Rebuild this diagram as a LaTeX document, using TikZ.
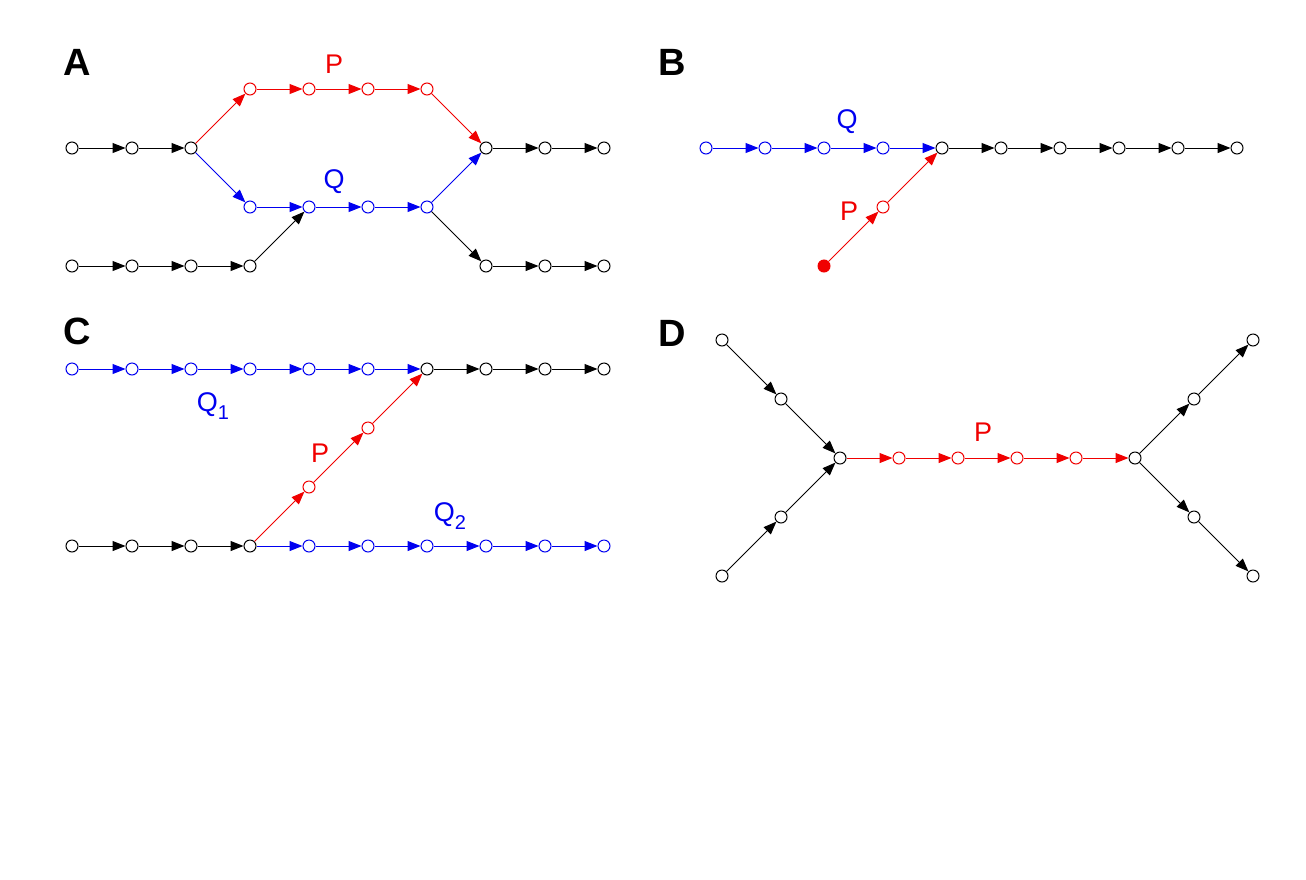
\documentclass[tikz,border=0pt]{standalone}
\usepackage{fontspec}
\setmainfont{Liberation Sans}
\usetikzlibrary{arrows.meta}
\definecolor{myred}{RGB}{240,0,0}
\definecolor{myblue}{RGB}{0,0,240}
\begin{document}
\begin{tikzpicture}[x=1pt,y=-1pt,
 v/.style={circle,draw,line width=1pt,minimum size=12pt,inner sep=0pt,fill=white},
 rv/.style={v,draw=myred},
 bv/.style={v,draw=myblue},
 fv/.style={v,draw=myred,fill=myred},
 e/.style={line width=1pt,-{Triangle[length=13pt,width=10pt]}},
 re/.style={e,myred},
 be/.style={e,myblue},
 lab/.style={font=\fontsize{27}{27}\selectfont},
 big/.style={font=\fontsize{38}{38}\selectfont\bfseries}]
\newcommand\mysub[1]{\raisebox{-0.3em}{\fontsize{20}{20}\selectfont #1}}
\useasboundingbox (0,0) rectangle (1306,879);
% panel labels
\node[big] at (77,62) {A};
\node[big] at (672,62) {B};
\node[big] at (77,331) {C};
\node[big] at (672,333) {D};
% ---------- A
\foreach \i/\x in {1/72,2/132,3/191}{\node[v] (a\i) at (\x,148) {};}
\foreach \i/\x in {8/486,9/545,10/604}{\node[v] (a\i) at (\x,148) {};}
\foreach \i/\x in {4/250,5/309,6/368,7/427}{\node[rv] (ap\i) at (\x,89) {};}
\foreach \i/\x in {4/250,5/309,6/368,7/427}{\node[bv] (aq\i) at (\x,207) {};}
\foreach \i/\x in {1/72,2/132,3/191,4/250}{\node[v] (al\i) at (\x,266) {};}
\foreach \i/\x in {8/486,9/545,10/604}{\node[v] (ar\i) at (\x,266) {};}
\draw[e] (a1)--(a2); \draw[e] (a2)--(a3);
\draw[e] (a8)--(a9); \draw[e] (a9)--(a10);
\draw[re] (a3)--(ap4); \draw[re] (ap4)--(ap5); \draw[re] (ap5)--(ap6); \draw[re] (ap6)--(ap7); \draw[re] (ap7)--(a8);
\draw[be] (a3)--(aq4); \draw[be] (aq4)--(aq5); \draw[be] (aq5)--(aq6); \draw[be] (aq6)--(aq7); \draw[be] (aq7)--(a8);
\draw[e] (al1)--(al2); \draw[e] (al2)--(al3); \draw[e] (al3)--(al4); \draw[e] (al4)--(aq5);
\draw[e] (aq7)--(ar8); \draw[e] (ar8)--(ar9); \draw[e] (ar9)--(ar10);
\node[lab,myred] at (334,64) {P};
\node[lab,myblue] at (334,182) {Q};
% ---------- B
\foreach \i/\x in {1/706,2/765,3/824,4/883}{\node[bv] (bq\i) at (\x,148) {};}
\foreach \i/\x in {5/942,6/1001,7/1060,8/1119,9/1178,10/1237}{\node[v] (b\i) at (\x,148) {};}
\node[fv] (bp1) at (824,266) {};
\node[rv] (bp2) at (883,207) {};
\draw[be] (bq1)--(bq2); \draw[be] (bq2)--(bq3); \draw[be] (bq3)--(bq4); \draw[be] (bq4)--(b5);
\draw[e] (b5)--(b6); \draw[e] (b6)--(b7); \draw[e] (b7)--(b8); \draw[e] (b8)--(b9); \draw[e] (b9)--(b10);
\draw[re] (bp1)--(bp2); \draw[re] (bp2)--(b5);
\node[lab,myblue] at (847,122) {Q};
\node[lab,myred] at (849,211) {P};
% ---------- C
\foreach \i/\x in {1/72,2/132,3/191,4/250,5/309,6/368}{\node[bv] (cq\i) at (\x,369) {};}
\foreach \i/\x in {7/427,8/486,9/545,10/604}{\node[v] (c\i) at (\x,369) {};}
\foreach \i/\x in {1/72,2/132,3/191,4/250}{\node[v] (cl\i) at (\x,546) {};}
\foreach \i/\x in {5/309,6/368,7/427,8/486,9/545,10/604}{\node[bv] (cr\i) at (\x,546) {};}
\node[rv] (cp1) at (309,487) {};
\node[rv] (cp2) at (368,428) {};
\draw[be] (cq1)--(cq2); \draw[be] (cq2)--(cq3); \draw[be] (cq3)--(cq4); \draw[be] (cq4)--(cq5); \draw[be] (cq5)--(cq6); \draw[be] (cq6)--(c7);
\draw[e] (c7)--(c8); \draw[e] (c8)--(c9); \draw[e] (c9)--(c10);
\draw[e] (cl1)--(cl2); \draw[e] (cl2)--(cl3); \draw[e] (cl3)--(cl4);
\draw[be] (cl4)--(cr5); \draw[be] (cr5)--(cr6); \draw[be] (cr6)--(cr7); \draw[be] (cr7)--(cr8); \draw[be] (cr8)--(cr9); \draw[be] (cr9)--(cr10);
\draw[re] (cl4)--(cp1); \draw[re] (cp1)--(cp2); \draw[re] (cp2)--(c7);
\node[lab,myblue] at (213,406) {Q\mysub{1}};
\node[lab,myred] at (320,453) {P};
\node[lab,myblue] at (450,516) {Q\mysub{2}};
% ---------- D
\node[v] (d1) at (722,340) {};
\node[v] (d2) at (781,399) {};
\node[v] (d3) at (722,576) {};
\node[v] (d4) at (781,517) {};
\node[v] (dc) at (840,458) {};
\foreach \i/\x in {1/899,2/958,3/1017,4/1076}{\node[rv] (dp\i) at (\x,458) {};}
\node[v] (de) at (1135,458) {};
\node[v] (d5) at (1194,399) {};
\node[v] (d6) at (1253,340) {};
\node[v] (d7) at (1194,517) {};
\node[v] (d8) at (1253,576) {};
\draw[e] (d1)--(d2); \draw[e] (d2)--(dc); \draw[e] (d3)--(d4); \draw[e] (d4)--(dc);
\draw[re] (dc)--(dp1); \draw[re] (dp1)--(dp2); \draw[re] (dp2)--(dp3); \draw[re] (dp3)--(dp4); \draw[re] (dp4)--(de);
\draw[e] (de)--(d5); \draw[e] (d5)--(d6); \draw[e] (de)--(d7); \draw[e] (d7)--(d8);
\node[lab,myred] at (983,432) {P};
\end{tikzpicture}
\end{document}
